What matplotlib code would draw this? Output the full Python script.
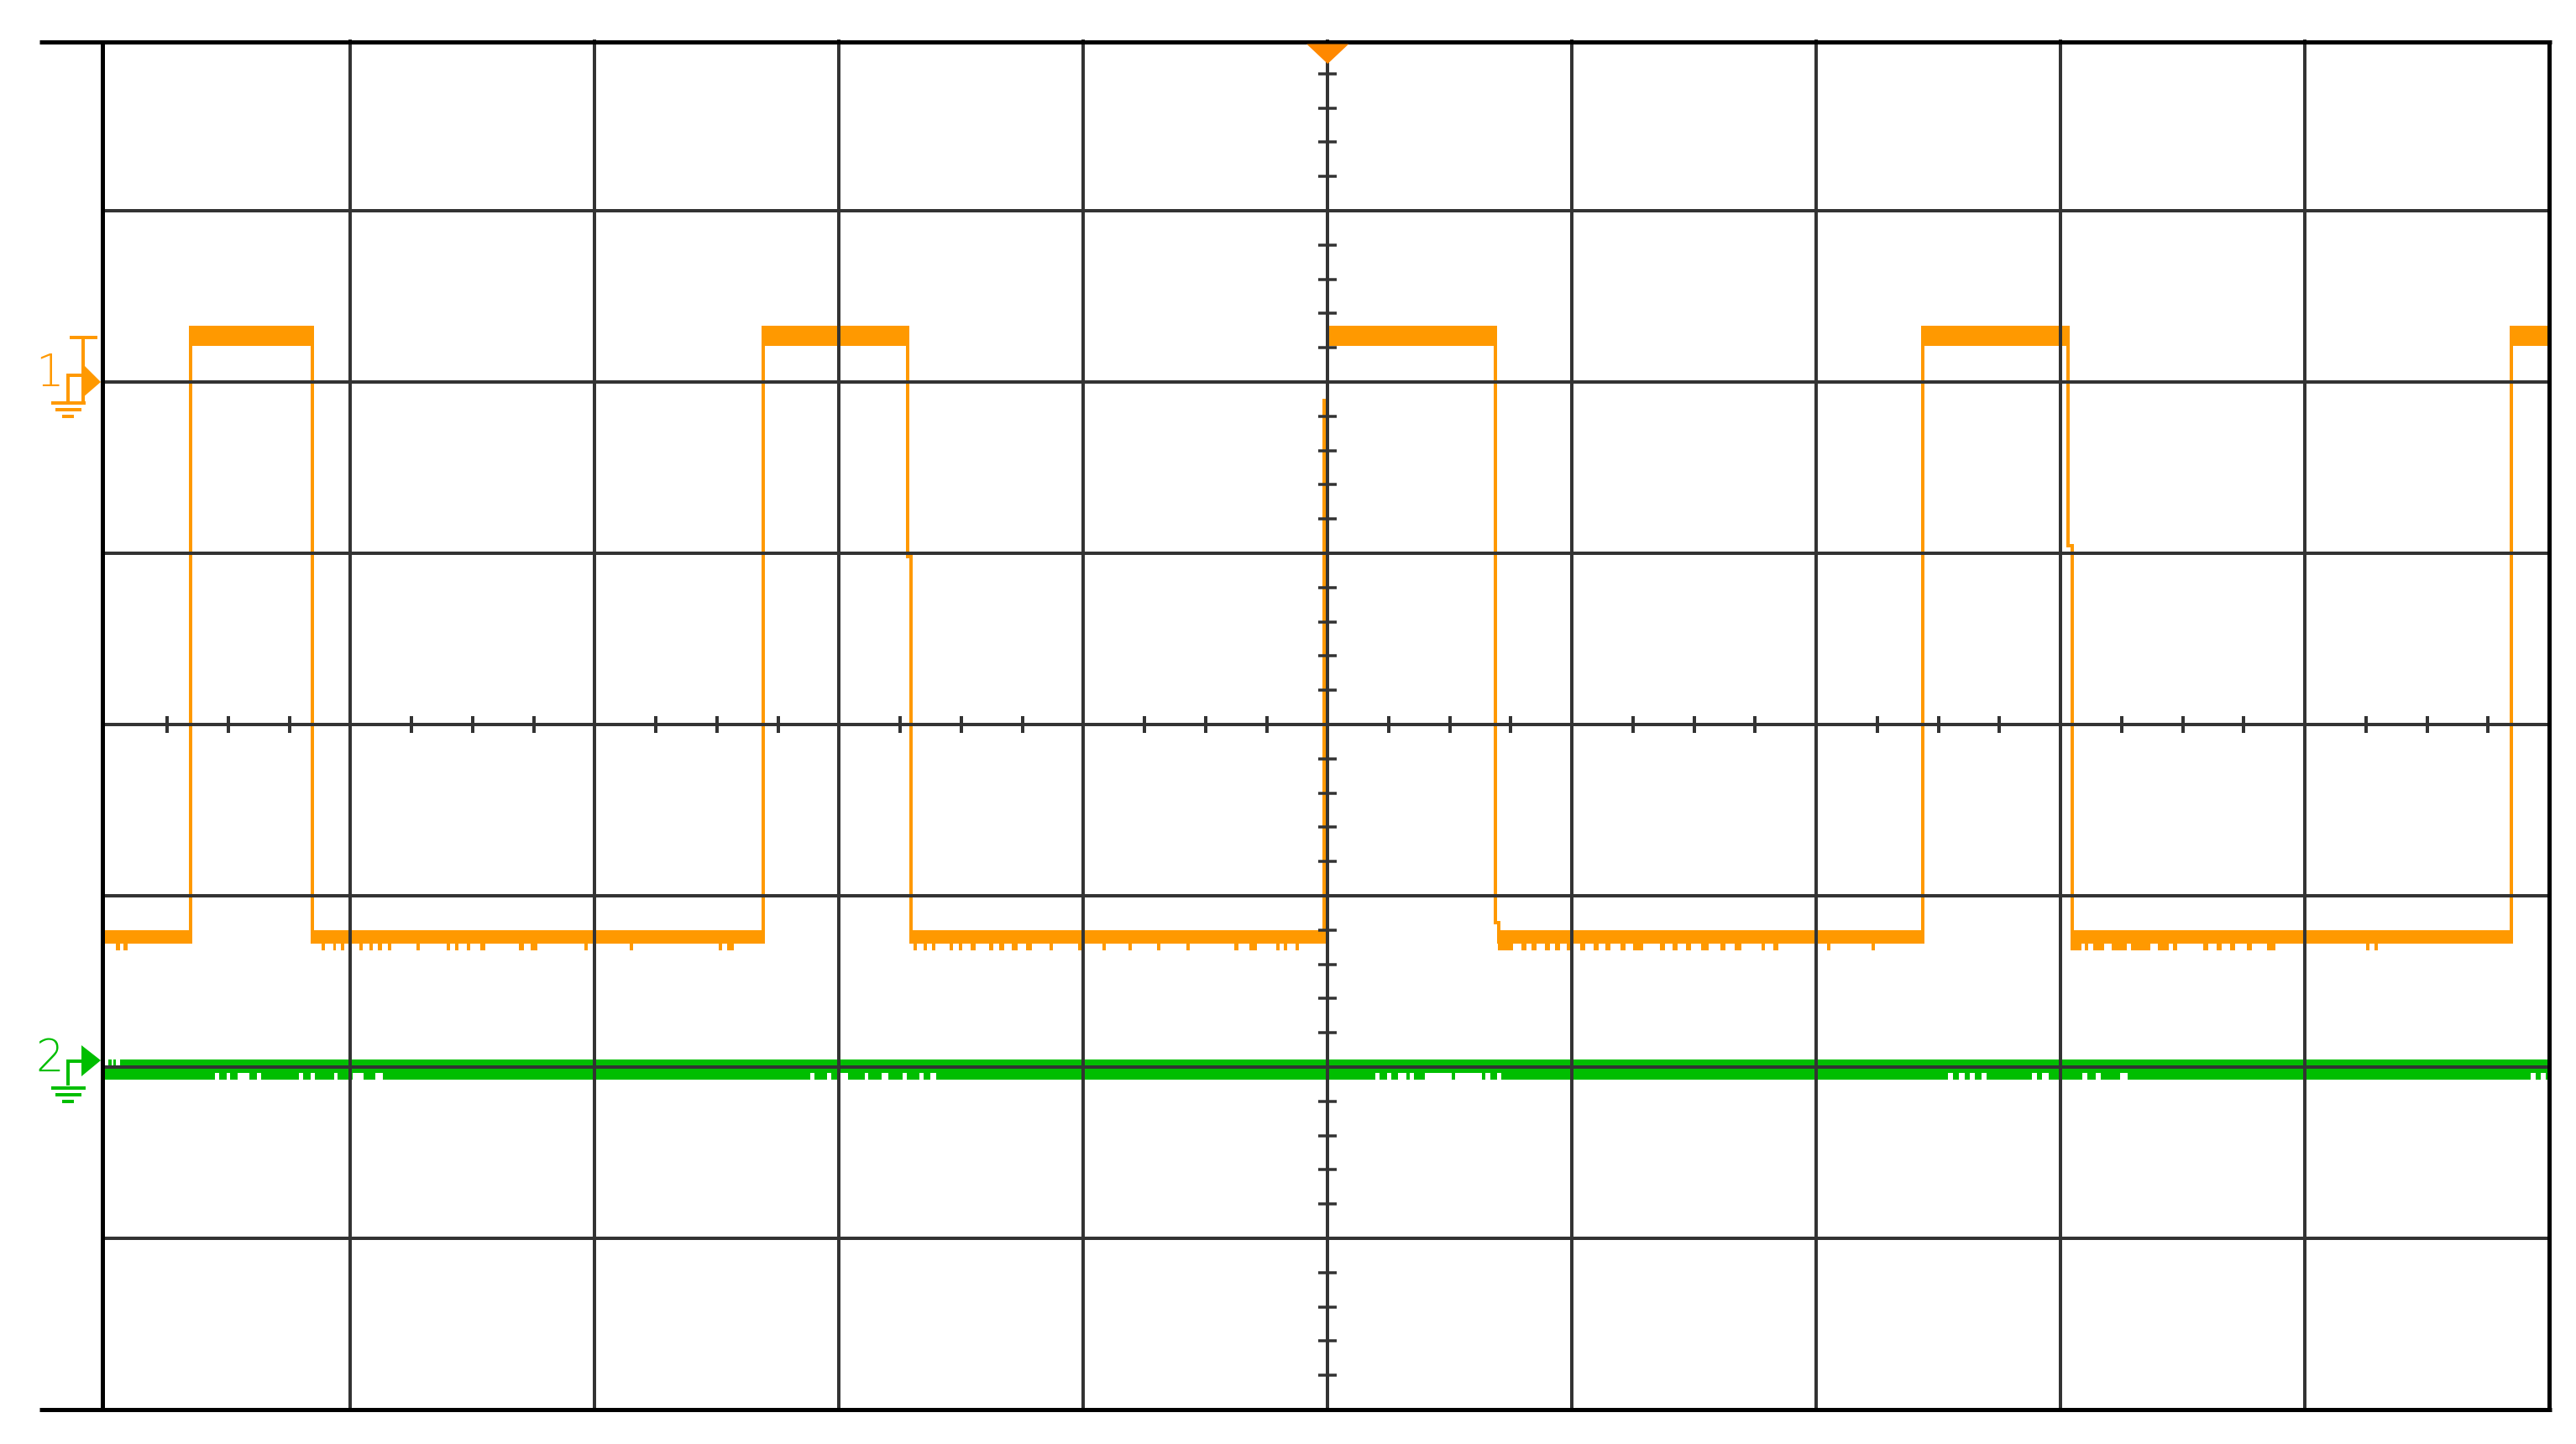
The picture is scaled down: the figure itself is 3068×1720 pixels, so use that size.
import matplotlib
matplotlib.use("Agg")
import matplotlib.pyplot as plt
from matplotlib.patches import Polygon

# ---------------- data (screen divisions: time 0..10, volts -4..4) ----------------
ch1_rise = [0.345, 2.689, 4.985, 7.436, 9.844]
ch1_rise_upper = [0.345, 2.689, 4.999, 7.436, 9.844]
ch1_rise_kink = [None, None, 1.892, None, None]
ch1_fall_upper = [0.844, 3.281, 5.687, 8.031]
ch1_fall_lower = [0.844, 3.296, 5.702, 8.048]
ch1_fall_kink = [None, 0.978, -1.157, 1.046]
ch1_high = (2.211, 2.328)          # bottom, top of high-level trace band
ch1_low = (-1.279, -1.201)         # bottom, top of low-level trace band
ch1_glitch_bottom = -1.319
ch1_glitches = [
    (0.041, 0.056), (0.069, 0.086),
    (0.882, 0.895), (0.930, 0.940), (0.961, 0.974), (1.036, 1.050), (1.077, 1.091),
    (1.112, 1.129), (1.153, 1.167), (1.270, 1.284), (1.394, 1.408), (1.428, 1.442),
    (1.476, 1.490), (1.531, 1.552), (1.689, 1.710), (1.737, 1.765), (1.958, 1.972),
    (2.143, 2.157), (2.507, 2.521), (2.541, 2.569),
    (3.305, 3.319), (3.346, 3.360), (3.381, 3.394), (3.453, 3.466), (3.490, 3.504),
    (3.538, 3.559), (3.614, 3.631), (3.655, 3.676), (3.707, 3.731), (3.765, 3.789),
    (3.862, 3.876), (3.979, 3.993), (4.078, 4.092), (4.185, 4.198), (4.301, 4.315),
    (4.421, 4.435), (4.618, 4.635), (4.680, 4.711), (4.790, 4.803), (4.820, 4.834),
    (4.868, 4.882),
    (5.696, 5.758), (5.794, 5.814), (5.835, 5.855), (5.890, 5.910), (5.931, 5.951),
    (5.979, 6.006), (6.034, 6.054), (6.089, 6.109), (6.137, 6.157), (6.199, 6.219),
    (6.250, 6.291), (6.360, 6.380), (6.411, 6.432), (6.466, 6.487), (6.529, 6.560),
    (6.608, 6.628), (6.666, 6.694), (6.776, 6.790), (6.824, 6.845), (7.044, 7.057),
    (7.227, 7.240),
    (8.041, 8.086), (8.099, 8.113), (8.134, 8.178), (8.209, 8.271), (8.288, 8.367),
    (8.398, 8.442), (8.459, 8.477), (8.584, 8.605), (8.639, 8.660), (8.694, 8.715),
    (8.763, 8.783), (8.845, 8.879), (9.251, 9.265), (9.285, 9.299),
]
ch2_band = (-2.074, -2.034, -1.990, -1.956)   # bottom, bottom-strip top, top-strip bottom, top
ch2_bottom_gaps = [
    (0.445, 0.462), (0.493, 0.507), (0.538, 0.586), (0.617, 0.635), (0.789, 0.806),
    (0.837, 0.854), (0.933, 0.947), (1.009, 1.053), (1.101, 1.132),
    (2.882, 2.899), (2.951, 2.968), (3.002, 3.036), (3.105, 3.119), (3.174, 3.201),
    (3.260, 3.278), (3.329, 3.346), (3.374, 3.398),
    (5.196, 5.213), (5.244, 5.261), (5.288, 5.323), (5.336, 5.353), (5.398, 5.508),
    (5.522, 5.631), (5.645, 5.666), (5.693, 5.710),
    (7.539, 7.560), (7.584, 7.608), (7.628, 7.648), (7.676, 7.697), (7.883, 7.904),
    (7.924, 7.952), (8.089, 8.109), (8.144, 8.164), (8.243, 8.274),
    (9.925, 9.945), (9.966, 9.986),
]
ch2_top_gaps = [(0.0, 0.009), (0.023, 0.030), (0.040, 0.057)]
ch1_offset = 2.0
ch2_offset = -1.961
channel_labels = ["1", "2"]

# ---------------- figure geometry ----------------
W, H, DPI = 3068, 1720, 100
L, R, T, B = 126.5, 3036, 47, 1679     # graticule extent in pixels
PXX = (R - L) / 10.0
PXY = (B - T) / 8.0
ORANGE = "#FF9900"
TRIG = "#FF8800"
GREEN = "#00BE00"
GRID = "#333333"

def lw(px):
    return px * 72.0 / DPI

def dx(px):
    return px / PXX

def dy(px):
    return px / PXY

fig = plt.figure(figsize=(W / DPI, H / DPI), dpi=DPI)
fig.patch.set_facecolor("white")
ax = fig.add_axes([L / W, 1 - B / H, (R - L) / W, (B - T) / H])
ax.set_xlim(0, 10)
ax.set_ylim(-4, 4)
ax.axis("off")

# ---------------- channel 1 trace ----------------
highs = []
for i, xr in enumerate(ch1_rise_upper):
    xe = ch1_fall_upper[i] + dx(2) if i < len(ch1_fall_upper) else 10.0
    highs.append((xr - dx(2), xe - (xr - dx(2))))
ax.broken_barh(highs, (ch1_high[0], ch1_high[1] - ch1_high[0]), facecolors=ORANGE, zorder=2)
lows = []
starts = [-dx(4.5)] + [x - dx(2) for x in ch1_fall_lower]
for s, e in zip(starts, [x + dx(2) for x in ch1_rise]):
    lows.append((s, e - s))
ax.broken_barh(lows, (ch1_low[0], ch1_low[1] - ch1_low[0]), facecolors=ORANGE, zorder=2, clip_on=False)
ax.broken_barh([(a, b - a) for a, b in ch1_glitches],
               (ch1_glitch_bottom, ch1_low[0] - ch1_glitch_bottom), facecolors=ORANGE, zorder=2)
for xr, xu, k in zip(ch1_rise, ch1_rise_upper, ch1_rise_kink):
    if k is None:
        ax.plot([xr, xr], [ch1_low[0], ch1_high[1]], color=ORANGE, lw=lw(4), solid_capstyle="butt", zorder=2)
    else:
        ax.plot([xr, xr, xu, xu], [ch1_low[0], k, k, ch1_high[1]], color=ORANGE, lw=lw(4),
                solid_capstyle="butt", solid_joinstyle="miter", zorder=2)
for xu, xl, k in zip(ch1_fall_upper, ch1_fall_lower, ch1_fall_kink):
    if k is None:
        ax.plot([xu, xu], [ch1_high[1], ch1_low[0]], color=ORANGE, lw=lw(4), solid_capstyle="butt", zorder=2)
    else:
        ax.plot([xu, xu, xl, xl], [ch1_high[1], k, k, ch1_low[0]], color=ORANGE, lw=lw(4),
                solid_capstyle="butt", solid_joinstyle="miter", zorder=2)

# ---------------- channel 2 trace ----------------
def complement(gaps, lo, hi=10.0):
    segs, cur = [], lo
    for a, b in sorted(gaps):
        if a > cur:
            segs.append((cur, a - cur))
        cur = max(cur, b)
    if cur < hi:
        segs.append((cur, hi - cur))
    return segs

x0 = -dx(4.5)
ax.broken_barh([(x0, 10 - x0)], (ch2_band[1], ch2_band[2] - ch2_band[1]), facecolors=GREEN, zorder=2, clip_on=False)
ax.broken_barh(complement(ch2_bottom_gaps, x0), (ch2_band[0], ch2_band[1] - ch2_band[0]),
               facecolors=GREEN, zorder=2, clip_on=False)
ax.broken_barh(complement(ch2_top_gaps, 0.0), (ch2_band[2], ch2_band[3] - ch2_band[2]),
               facecolors=GREEN, zorder=2)

# ---------------- graticule ----------------
GLW = lw(4.0)
for i in range(1, 10):
    ax.plot([i, i], [-4, 4], color=GRID, lw=GLW, solid_capstyle="butt", zorder=5)
for j in range(-3, 4):
    ax.plot([-dx(4.5), 10], [j, j], color=GRID, lw=GLW, solid_capstyle="butt", zorder=5, clip_on=False)
for k in range(-19, 20):
    if k % 5:
        y = k * 0.2
        ax.plot([5 - dx(11), 5 + dx(11)], [y, y], color=GRID, lw=lw(3.5), solid_capstyle="butt", zorder=5)
for k in range(1, 40):
    if k % 4:
        x = k * 0.25
        ax.plot([x, x], [-dy(10), dy(10)], color=GRID, lw=lw(4.0), solid_capstyle="butt", zorder=5)

# outer frame (extends to the left of the screen)
ytop = 4 - dy(3)
xl_ext = -dx(79.5)
xl_b = -dx(4.5)
FLW = lw(5.0)
ax.plot([xl_ext, 10 + dx(2.5)], [ytop, ytop], color="black", lw=FLW, solid_capstyle="butt", zorder=6, clip_on=False)
ax.plot([xl_ext, 10 + dx(2.5)], [-4, -4], color="black", lw=FLW, solid_capstyle="butt", zorder=6, clip_on=False)
ax.plot([xl_b, xl_b], [-4, ytop], color="black", lw=FLW, solid_capstyle="butt", zorder=6, clip_on=False)
ax.plot([10, 10], [-4, ytop], color="black", lw=FLW, solid_capstyle="butt", zorder=6, clip_on=False)

# trigger position marker
ax.add_patch(Polygon([(5 - dx(25), ytop - dy(2.5)), (5 + dx(25), ytop - dy(2.5)), (5, ytop - dy(26))],
                     closed=True, facecolor=TRIG, edgecolor="none", zorder=7, clip_on=False))

# ---------------- channel markers (pixel overlay) ----------------
ov = fig.add_axes([0, 0, 1, 1], facecolor="none")
ov.set_xlim(0, W)
ov.set_ylim(H, 0)
ov.axis("off")

def ypx(v):
    return T + (4 - v) * PXY

def seg(xa, ya, xb, yb, c, w=4):
    ov.plot([xa, xb], [ya, yb], color=c, lw=lw(w), solid_capstyle="butt")

# channel 1
y1 = ypx(ch1_offset)
ov.add_patch(Polygon([(98, y1 - 22), (120, y1), (98, y1 + 19)], closed=True, facecolor=ORANGE, edgecolor="none"))
seg(83, y1 - 53.5, 116, y1 - 53.5, ORANGE)
seg(98.5, y1 - 55, 98.5, y1 + 25, ORANGE)
seg(79, y1 - 8.5, 98.5, y1 - 8.5, ORANGE)
seg(81, y1 - 10.5, 81, y1 + 25, ORANGE)
seg(61, y1 + 24.5, 102, y1 + 24.5, ORANGE)
seg(66, y1 + 33, 97, y1 + 33, ORANGE)
seg(74, y1 + 41, 88, y1 + 41, ORANGE)
ov.text(59, y1 - 10, channel_labels[0], color=ORANGE, fontsize=38, ha="center", va="center",
        family="DejaVu Sans", fontweight="light")

# channel 2
y2 = ypx(ch2_offset)
ov.add_patch(Polygon([(97, y2 - 18), (120, y2), (97, y2 + 19)], closed=True, facecolor=GREEN, edgecolor="none"))
seg(79, y2 + 1, 100, y2 + 1, GREEN)
seg(81, y2 - 1, 81, y2 + 30, GREEN)
seg(61, y2 + 33, 102, y2 + 33, GREEN)
seg(66, y2 + 41, 97, y2 + 41, GREEN)
seg(74, y2 + 49, 88, y2 + 49, GREEN)
ov.text(59, y2 - 2, channel_labels[1], color=GREEN, fontsize=38, ha="center", va="center",
        family="DejaVu Sans", fontweight="light")

fig.savefig("out.png", dpi=DPI, facecolor="white")
